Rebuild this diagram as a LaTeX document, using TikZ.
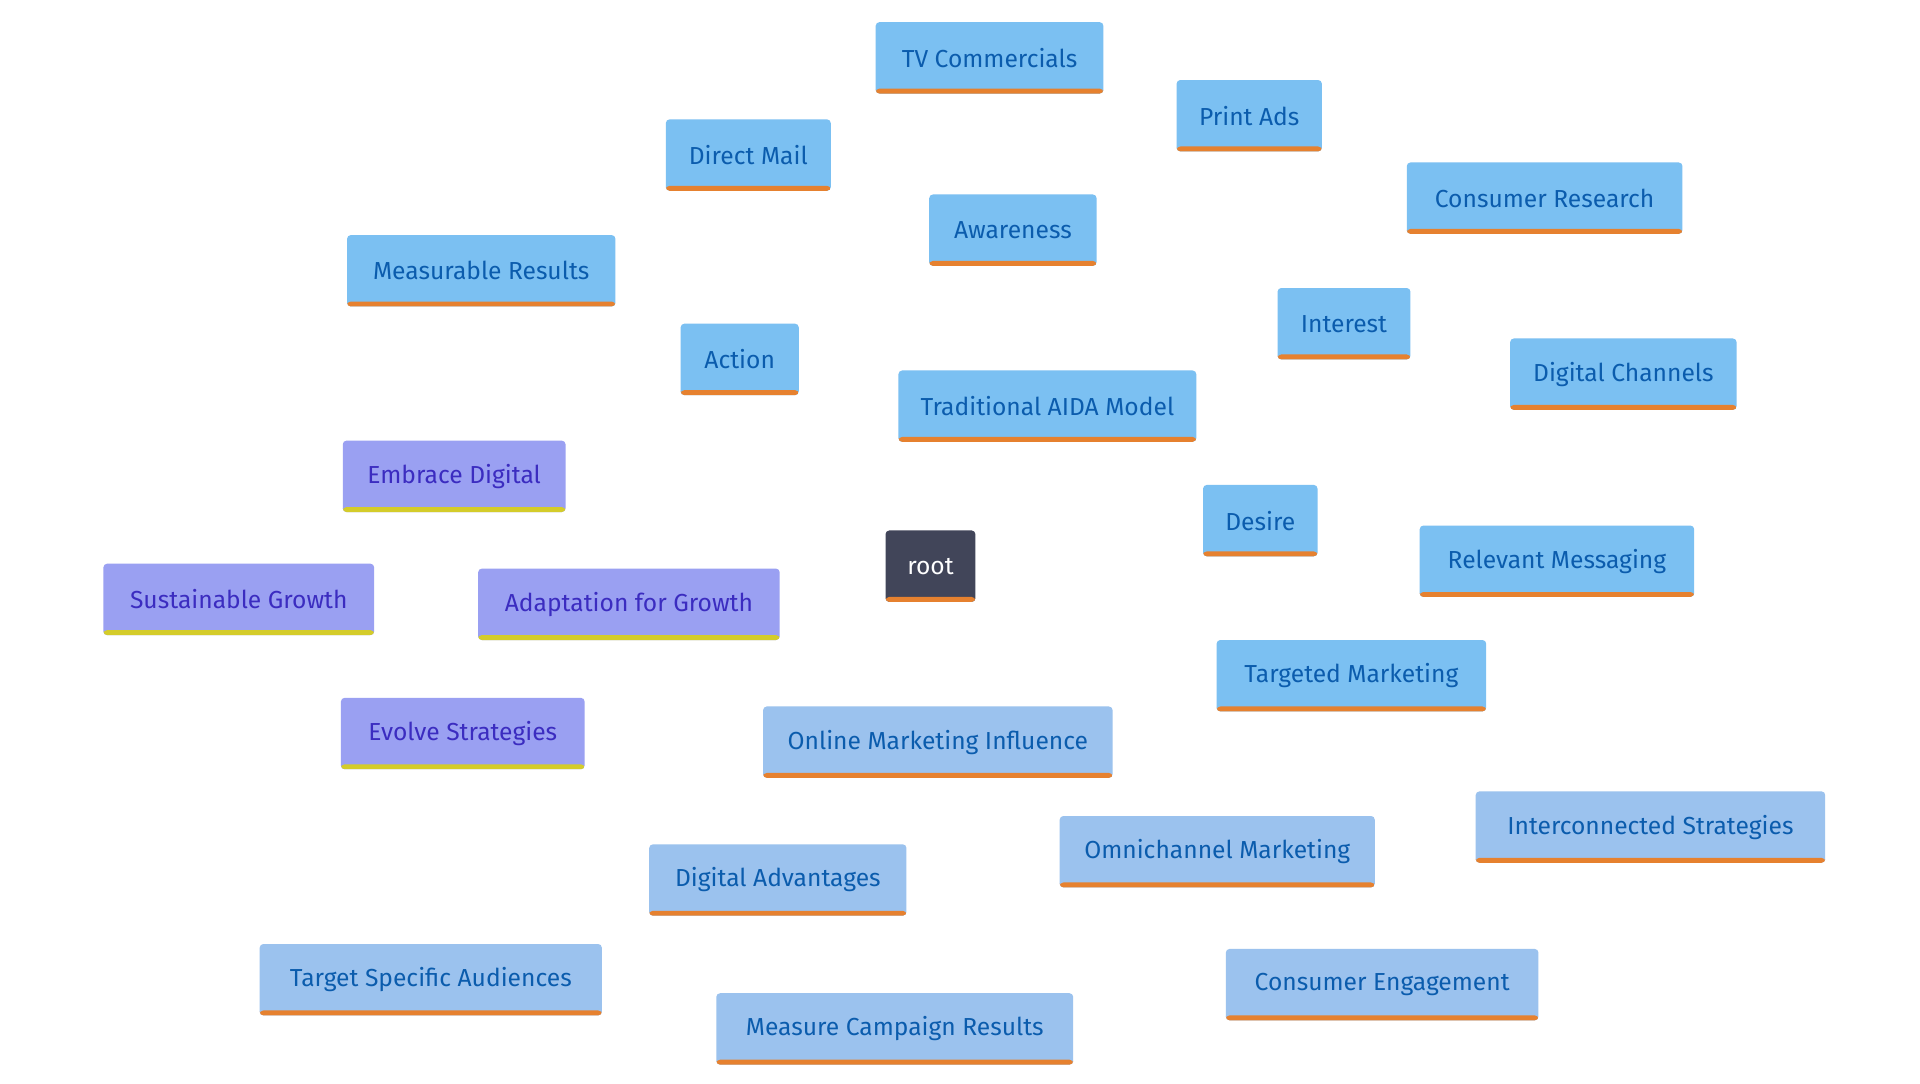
\documentclass[tikz,border=0pt]{standalone}
\usepackage{fontspec}
\setmainfont{Fira Sans}
\usetikzlibrary{backgrounds}
\definecolor{bfill}{HTML}{7BC0F2}
\definecolor{btext}{HTML}{0B5CAD}
\definecolor{lfill}{HTML}{9BC2EE}
\definecolor{pfill}{HTML}{9AA0F2}
\definecolor{ptext}{HTML}{3B2CC0}
\definecolor{pline}{HTML}{D4CC2A}
\definecolor{rfill}{HTML}{414559}
\definecolor{orng}{HTML}{E6812F}
\definecolor{bedge}{HTML}{7BBCEB}
\definecolor{pedge}{HTML}{9A9CEB}
\definecolor{ledge}{HTML}{9EC2EC}
\begin{document}
\begin{tikzpicture}[x=0.5pt,y=-0.5pt,
 box/.style={rectangle,rounded corners=1.5pt,inner sep=0pt,minimum height=29pt,font=\fontsize{10}{12}\selectfont,
   path picture={\fill[#1] (path picture bounding box.south west) rectangle ([yshift=2pt]path picture bounding box.south east);}},
 bn/.style={box=orng,fill=bfill,text=btext},
 ln/.style={box=orng,fill=lfill,text=btext},
 pn/.style={box=pline,fill=pfill,text=ptext},
 rn/.style={box=orng,fill=rfill,text=white},
 be/.style={draw=bedge,line width=2pt},
 pe/.style={draw=pedge,line width=2pt},
 le/.style={draw=ledge,line width=2pt}]
\useasboundingbox[fill=white] (0,0) rectangle (1560,880);
\node[rn,minimum width=36.5pt] (root) at (756,460) {root};
\node[bn,minimum width=121pt] (aida) at (851,330) {Traditional AIDA Model};
\node[bn,minimum width=68pt] (aw) at (823,187) {Awareness};
\node[bn,minimum width=92.5pt] (tv) at (804,47) {TV Commercials};
\node[bn,minimum width=59pt] (pa) at (1015,94) {Print Ads};
\node[bn,minimum width=67pt] (dm) at (608,126) {Direct Mail};
\node[bn,minimum width=54pt] (in) at (1092,263) {Interest};
\node[bn,minimum width=112pt] (cr) at (1255,161) {Consumer Research};
\node[bn,minimum width=92pt] (dc) at (1319,304) {Digital Channels};
\node[bn,minimum width=48pt] (ac) at (601,292) {Action};
\node[bn,minimum width=109pt] (mr) at (391,220) {Measurable Results};
\node[bn,minimum width=46.5pt] (de) at (1024,423) {Desire};
\node[bn,minimum width=111.5pt] (rm) at (1265,456) {Relevant Messaging};
\node[bn,minimum width=109.5pt] (tm) at (1098,549) {Targeted Marketing};
\node[pn,minimum width=122.5pt] (ad) at (511,491) {Adaptation for Growth};
\node[pn,minimum width=90.5pt] (ed) at (369,387) {Embrace Digital};
\node[pn,minimum width=110pt] (sg) at (194,487) {Sustainable Growth};
\node[pn,minimum width=99pt] (es) at (376,596) {Evolve Strategies};
\node[ln,minimum width=142pt] (om) at (762,603) {Online Marketing Influence};
\node[ln,minimum width=104.5pt] (da) at (632,715) {Digital Advantages};
\node[ln,minimum width=128pt] (oc) at (989,692) {Omnichannel Marketing};
\node[ln,minimum width=142pt] (is) at (1341,672) {Interconnected Strategies};
\node[ln,minimum width=127pt] (ce) at (1123,800) {Consumer Engagement};
\node[ln,minimum width=139pt] (ts) at (350,796) {Target Specific Audiences};
\node[ln,minimum width=145pt] (mc) at (727,836) {Measure Campaign Results};
\begin{scope}[on background layer]
\draw[be] (root.center) -- (aida.center);
\draw[be] (aida.center) -- (aw.center);
\draw[be] (aw.center) -- (tv.center);
\draw[be] (aw.center) -- (pa.center);
\draw[be] (aw.center) -- (dm.center);
\draw[be] (aida.center) -- (in.center);
\draw[be] (in.center) -- (cr.center);
\draw[be] (in.center) -- (dc.center);
\draw[be] (aida.center) -- (ac.center);
\draw[be] (ac.center) -- (mr.center);
\draw[be] (aida.center) -- (de.center);
\draw[be] (de.center) -- (rm.center);
\draw[be] (de.center) -- (tm.center);
\draw[pe] (root.center) -- (ad.center);
\draw[pe] (ad.center) -- (ed.center);
\draw[pe] (ad.center) -- (sg.center);
\draw[pe] (ad.center) -- (es.center);
\draw[le] (root.center) -- (om.center);
\draw[le] (om.center) -- (da.center);
\draw[le] (om.center) -- (oc.center);
\draw[le] (oc.center) -- (is.center);
\draw[le] (oc.center) -- (ce.center);
\draw[le] (da.center) -- (ts.center);
\draw[le] (da.center) -- (mc.center);
\end{scope}
\end{tikzpicture}
\end{document}
